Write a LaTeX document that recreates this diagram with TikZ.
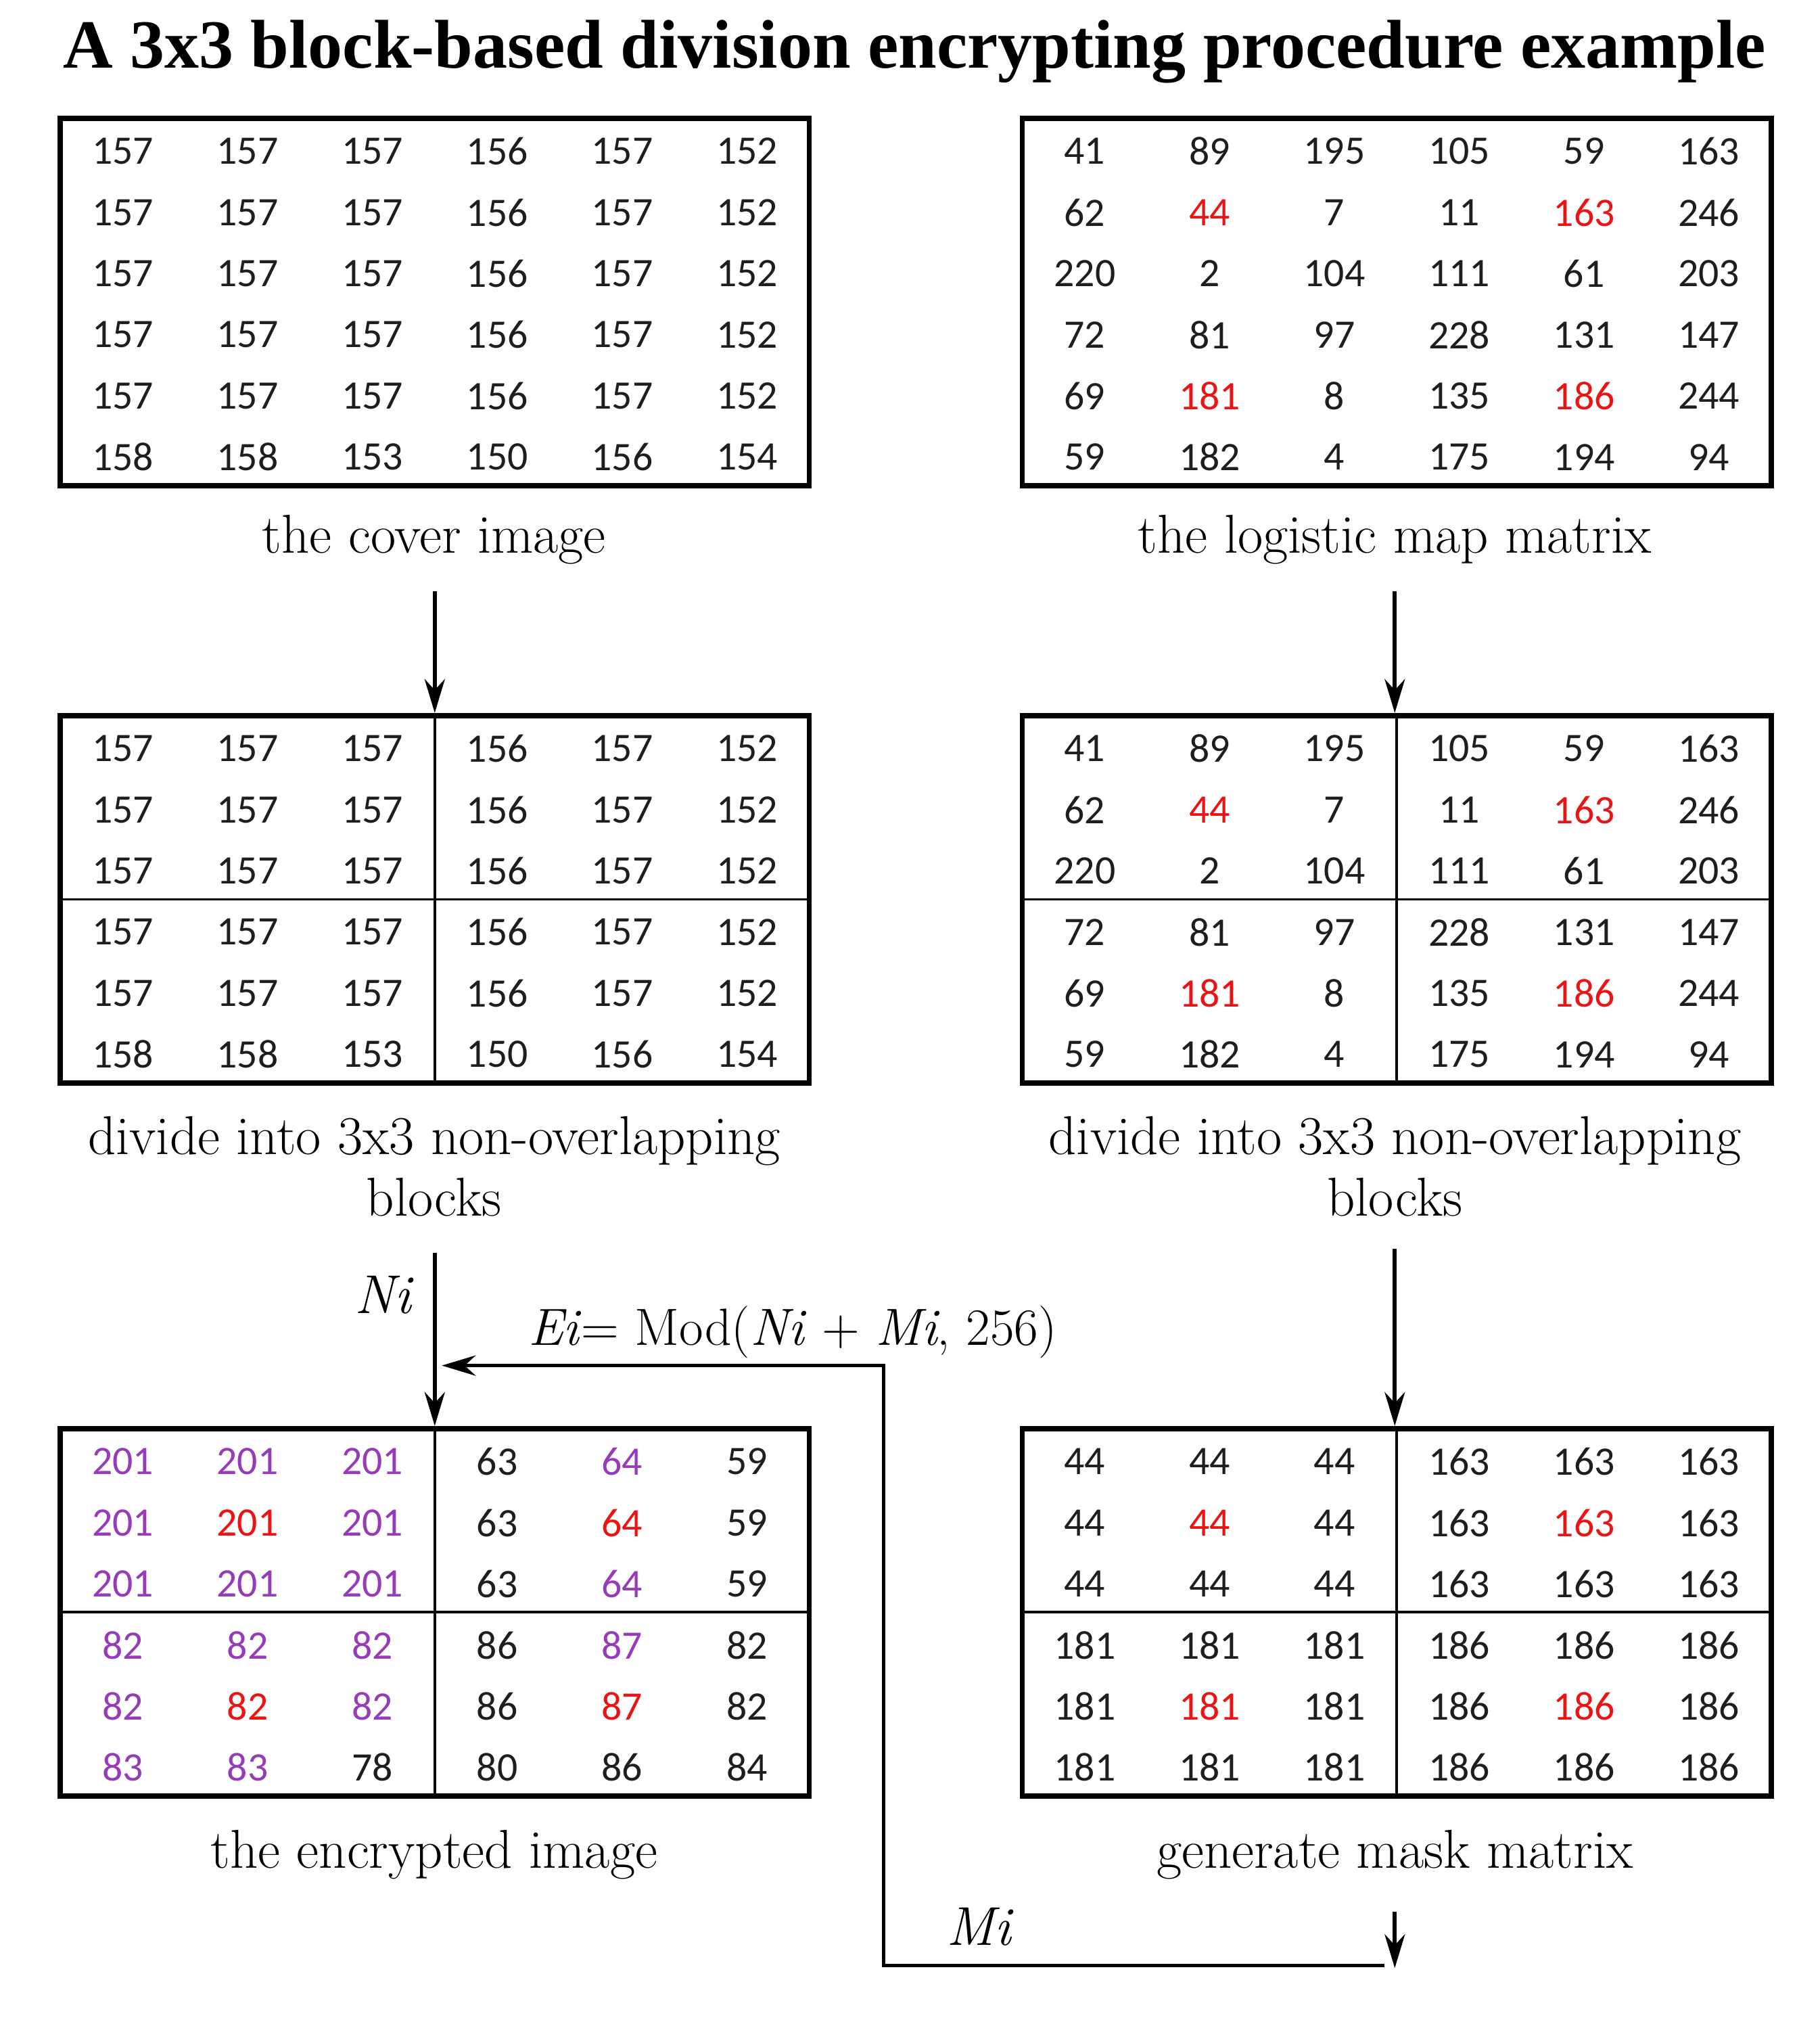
\documentclass[tikz,border=0pt]{standalone}
\usepackage{fontspec}
\newfontfamily\numfont{Carlito}
\newfontfamily\titlefont{Liberation Serif}
\usetikzlibrary{arrows.meta}
\definecolor{pur}{RGB}{150,60,185}
\definecolor{red}{RGB}{235,20,20}
\definecolor{k}{RGB}{30,30,30}
\colorlet{p}{pur}
\colorlet{r}{red}
\tikzset{
  mbox/.style={draw, line width=2.2pt, minimum width=583*0.1898mm, minimum height=286*0.1898mm, inner sep=0pt},
  num/.style={font=\numfont\fontsize{17}{17}\selectfont},
  lab/.style={font=\fontsize{23}{26}\selectfont, align=center},
  arr/.style={line width=1.6pt, -{Stealth[length=5mm,width=3mm]}},
  conn/.style={line width=1.6pt}
}
\newcommand{\fillmat}[3]{% x0 y0 rowsmacro
  \foreach \row [count=\i] in #3 {
    \foreach \c/\v [count=\j] in \row {
      \node[num, text=\c] at ({#1+48.6*(2*\j-1)}, {#2+23.8*(2*\i-1)+2}) {\v};
    }
  }
}
\newcommand{\grid}[3]{% name x0 y0
  \draw[line width=1pt] ({#2+291.5},#3) -- ({#2+291.5},{#3+286});
  \draw[line width=1pt] (#2,{#3+143}) -- ({#2+583},{#3+143});
}
\def\covrows{{k/157,k/157,k/157,k/156,k/157,k/152},{k/157,k/157,k/157,k/156,k/157,k/152},{k/157,k/157,k/157,k/156,k/157,k/152},{k/157,k/157,k/157,k/156,k/157,k/152},{k/157,k/157,k/157,k/156,k/157,k/152},{k/158,k/158,k/153,k/150,k/156,k/154}}
\def\logrows{{k/41,k/89,k/195,k/105,k/59,k/163},{k/62,r/44,k/7,k/11,r/163,k/246},{k/220,k/2,k/104,k/111,k/61,k/203},{k/72,k/81,k/97,k/228,k/131,k/147},{k/69,r/181,k/8,k/135,r/186,k/244},{k/59,k/182,k/4,k/175,k/194,k/94}}
\def\encrows{{p/201,p/201,p/201,k/63,p/64,k/59},{p/201,r/201,p/201,k/63,r/64,k/59},{p/201,p/201,p/201,k/63,p/64,k/59},{p/82,p/82,p/82,k/86,p/87,k/82},{p/82,r/82,p/82,k/86,r/87,k/82},{p/83,p/83,k/78,k/80,k/86,k/84}}
\def\maskrows{{k/44,k/44,k/44,k/163,k/163,k/163},{k/44,r/44,k/44,k/163,r/163,k/163},{k/44,k/44,k/44,k/163,k/163,k/163},{k/181,k/181,k/181,k/186,k/186,k/186},{k/181,r/181,k/181,k/186,r/186,k/186},{k/181,k/181,k/181,k/186,k/186,k/186}}
\begin{document}
\begin{tikzpicture}[x=0.1898mm,y=-0.1898mm]
\useasboundingbox (0,0) rectangle (1417,1574);
\node[font=\titlefont\bfseries\fontsize{29}{32}\selectfont] (title) at (712,40) {A 3x3 block-based division encrypting procedure example};

\node[mbox] (cov) at (338.5,235) {};
\fillmat{47}{92}{\covrows}
\node[lab] (covl) at (338,420) {the cover image};

\node[mbox] (log) at (1087.5,235) {};
\fillmat{796}{92}{\logrows}
\node[lab] (logl) at (1086,420) {the logistic map matrix};

\node[mbox] (covd) at (338.5,700) {};
\grid{covd}{47}{557}
\fillmat{47}{557}{\covrows}
\node[lab] (covdl) at (338,908) {divide into 3x3 non-overlapping\\blocks};

\node[mbox] (logd) at (1087.5,700) {};
\grid{logd}{796}{557}
\fillmat{796}{557}{\logrows}
\node[lab] (logdl) at (1086,908) {divide into 3x3 non-overlapping\\blocks};

\node[mbox] (enc) at (338.5,1255) {};
\grid{enc}{47}{1112}
\fillmat{47}{1112}{\encrows}
\node[lab] (encl) at (338,1444) {the encrypted image};

\node[mbox] (mask) at (1087.5,1255) {};
\grid{mask}{796}{1112}
\fillmat{796}{1112}{\maskrows}
\node[lab] (maskl) at (1086,1444) {generate mask matrix};

\coordinate (a1) at (338.5,460);
\coordinate (a2) at (1086,460);
\draw[arr] (a1) -- (covd.north);
\draw[arr] (a2) -- (logd.north -| a2);
\coordinate (a3) at (338.5,975);
\coordinate (a4) at (1086,972);
\draw[arr] (a3) -- (enc.north);
\draw[arr] (a4) -- (mask.north -| a4);
\node[lab, font=\itshape\fontsize{23}{26}\selectfont] (ni) at (298,1008) {Ni};
\node[lab, anchor=west, font=\fontsize{22}{26}\selectfont] (form) at (405,1037) {\textit{Ei}= Mod(\textit{Ni} + \textit{Mi}, 256)};
\coordinate (c1) at (688,1530);
\coordinate (c2) at (688,1063);
\coordinate (c3) at (344,1063);
\coordinate (c4) at (1078,1530);
\draw[arr] (c4) -- (c1) -- (c2) -- (c3);
\coordinate (m1) at (1086,1488);
\coordinate (m2) at (1086,1532);
\draw[arr] (m1) -- (m2);
\node[lab, font=\itshape\fontsize{23}{26}\selectfont] (mi) at (762,1500) {Mi};
\end{tikzpicture}
\end{document}
